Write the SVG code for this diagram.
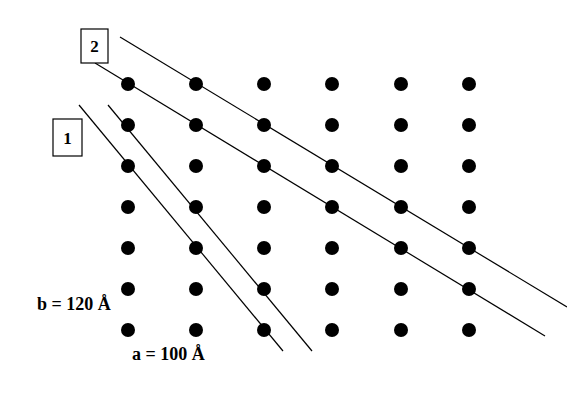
<svg xmlns="http://www.w3.org/2000/svg" width="567" height="403" viewBox="0 0 567 403">
<defs>
<style>
.dot{fill:#000}
.ln{stroke:#000;stroke-width:1.2;fill:none}
.box{fill:#fff;stroke:#000;stroke-width:1.2}
.lbl{font-family:"Liberation Serif","Times New Roman",serif;font-weight:bold;fill:#000}
</style>
<circle id="d" r="7" class="dot"/>
</defs>
<rect width="567" height="403" fill="#fff"/>
<g id="lattice">
<use href="#d" x="128" y="84"/><use href="#d" x="196" y="84"/><use href="#d" x="264" y="84"/><use href="#d" x="332" y="84"/><use href="#d" x="401" y="84"/><use href="#d" x="469" y="84"/>
<use href="#d" x="128" y="125"/><use href="#d" x="196" y="125"/><use href="#d" x="264" y="125"/><use href="#d" x="332" y="125"/><use href="#d" x="401" y="125"/><use href="#d" x="469" y="125"/>
<use href="#d" x="128" y="166"/><use href="#d" x="196" y="166"/><use href="#d" x="264" y="166"/><use href="#d" x="332" y="166"/><use href="#d" x="401" y="166"/><use href="#d" x="469" y="166"/>
<use href="#d" x="128" y="207"/><use href="#d" x="196" y="207"/><use href="#d" x="264" y="207"/><use href="#d" x="332" y="207"/><use href="#d" x="401" y="207"/><use href="#d" x="469" y="207"/>
<use href="#d" x="128" y="248"/><use href="#d" x="196" y="248"/><use href="#d" x="264" y="248"/><use href="#d" x="332" y="248"/><use href="#d" x="401" y="248"/><use href="#d" x="469" y="248"/>
<use href="#d" x="128" y="289"/><use href="#d" x="196" y="289"/><use href="#d" x="264" y="289"/><use href="#d" x="332" y="289"/><use href="#d" x="401" y="289"/><use href="#d" x="469" y="289"/>
<use href="#d" x="128" y="330"/><use href="#d" x="196" y="330"/><use href="#d" x="264" y="330"/><use href="#d" x="332" y="330"/><use href="#d" x="401" y="330"/><use href="#d" x="469" y="330"/>
</g>
<g id="connectors">
<line class="ln" x1="120" y1="37" x2="567" y2="307"/>
<line class="ln" x1="95" y1="63" x2="545" y2="336"/>
<line class="ln" x1="79" y1="105" x2="283" y2="351"/>
<line class="ln" x1="108" y1="105" x2="312" y2="351"/>
</g>
<g id="box2">
<rect class="box" x="81" y="29" width="27" height="34"/>
<text class="lbl" x="94.5" y="52" font-size="17" text-anchor="middle">2</text>
</g>
<g id="box1">
<rect class="box" x="53" y="119" width="29" height="37"/>
<text class="lbl" x="67.5" y="144" font-size="17" text-anchor="middle">1</text>
</g>
<g id="labels">
<text class="lbl" x="37" y="310" font-size="18">b = 120 Å</text>
<text class="lbl" x="132" y="360" font-size="18">a = 100 Å</text>
</g>
</svg>
